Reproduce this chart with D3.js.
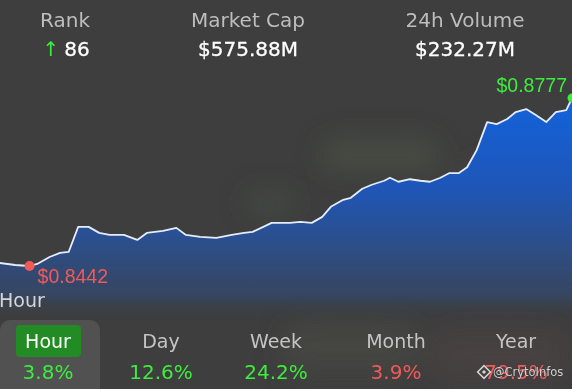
<!DOCTYPE html>
<html>
<head>
<meta charset="utf-8">
<script src="https://cdn.jsdelivr.net/npm/d3@7"></script>
<style>
  html, body { margin: 0; padding: 0; background: #3e3e3e; overflow: hidden; }
  svg { display: block; }
</style>
</head>
<body>
<script>
// price over the last hour (minutes from start, USD)
var minutes = [0, 1.6, 3.1, 3.9, 5.2, 6.3, 7.2, 8.2, 9.3, 10.4, 11.5, 13, 14.4, 15.4, 17.1, 18.5, 19.5, 21, 22.7, 24.3,
	25.6, 26.5, 28.5, 30.4, 31.5, 32.7, 33.8, 34.7, 36, 36.8, 38, 39, 40.3, 40.9, 41.8, 43, 44.1, 45.1, 46.2,
	47.1, 48.1, 49, 50, 51.1, 52.1, 53.2, 54.1, 55.2, 56.2, 57.3, 58.3, 59.4, 60];
var prices = [0.8448, 0.8444, 0.8442, 0.8446, 0.8460, 0.8468, 0.8470, 0.8520, 0.8520, 0.8508, 0.8504, 0.8504, 0.8494,
	0.8508, 0.8512, 0.8518, 0.8504, 0.8500, 0.8498, 0.8504, 0.8508, 0.8510, 0.8528, 0.8528, 0.8530, 0.8528,
	0.8540, 0.8560, 0.8574, 0.8578, 0.8596, 0.8604, 0.8612, 0.8618, 0.8610, 0.8615, 0.8612, 0.8610, 0.8618,
	0.8627, 0.8627, 0.8639, 0.8673, 0.8729, 0.8725, 0.8735, 0.8749, 0.8755, 0.8743, 0.8729, 0.8749, 0.8753, 0.8777];

var statLabels = ['Rank', 'Market Cap', '24h Volume'];
var statValues = ['86', '$575.88M', '$232.27M'];

var periods = ['Hour', 'Day', 'Week', 'Month', 'Year'];
var changes = [3.8, 12.6, 24.2, -3.9, -79.5];
var selectedPeriod = 'Hour';

var width = 572;
var height = 389;

var green = '#3ded3d';
var red = '#f25a5a';

var svg = d3.select('body')
	.append('svg')
	.attr('width', width)
	.attr('height', height)
	.style('font-family', '"DejaVu Sans", Verdana, sans-serif');

var defs = svg.append('defs');

defs.append('filter')
	.attr('id', 'blur')
	.attr('x', '-50%').attr('y', '-50%')
	.attr('width', '200%').attr('height', '200%')
	.append('feGaussianBlur')
	.attr('stdDeviation', 12);

var grad = defs.append('linearGradient')
	.attr('id', 'areaFill')
	.attr('gradientUnits', 'userSpaceOnUse')
	.attr('x1', 0).attr('y1', 95)
	.attr('x2', 0).attr('y2', 322);
grad.append('stop').attr('offset', '0%').attr('stop-color', '#1263dc');
grad.append('stop').attr('offset', '40%').attr('stop-color', '#1e56b8');
grad.append('stop').attr('offset', '68%').attr('stop-color', '#2d4e86');
grad.append('stop').attr('offset', '88%').attr('stop-color', '#324b7a').attr('stop-opacity', 0.6);
grad.append('stop').attr('offset', '100%').attr('stop-color', '#3e3e3e').attr('stop-opacity', 0);

// background
svg.append('rect')
	.attr('width', width)
	.attr('height', height)
	.attr('fill', '#3e3e3e');

// faint bokeh blobs behind the chart
var blobs = svg.append('g').attr('filter', 'url(#blur)');
blobs.append('rect').attr('x', 320).attr('y', 138).attr('width', 120).attr('height', 34).attr('rx', 17)
	.attr('fill', '#4a5645').attr('opacity', 0.55);
blobs.append('rect').attr('x', 245).attr('y', 190).attr('width', 50).attr('height', 26).attr('rx', 13)
	.attr('fill', '#465245').attr('opacity', 0.5);
blobs.append('rect').attr('x', 455).attr('y', 160).attr('width', 100).attr('height', 70).attr('rx', 30)
	.attr('fill', '#564545').attr('opacity', 0.4);
blobs.append('rect').attr('x', 280).attr('y', 322).attr('width', 140).attr('height', 50).attr('rx', 25)
	.attr('fill', '#4b4a44').attr('opacity', 0.55);
blobs.append('rect').attr('x', 430).attr('y', 330).attr('width', 140).attr('height', 50).attr('rx', 25)
	.attr('fill', '#4f4444').attr('opacity', 0.55);

var x = d3.scaleLinear()
	.domain([0, 60])
	.range([0, width]);

var y = d3.scaleLinear()
	.domain([d3.min(prices), d3.max(prices)])
	.range([266, 98]);

var points = minutes.map(function(m, i) {
	return { t: m, p: prices[i] };
});

var area = d3.area()
	.x(function(d) { return x(d.t); })
	.y0(height)
	.y1(function(d) { return y(d.p); });

var line = d3.line()
	.x(function(d) { return x(d.t); })
	.y(function(d) { return y(d.p); });

svg.append('path')
	.datum(points)
	.attr('d', area)
	.attr('fill', 'url(#areaFill)');

svg.append('path')
	.datum(points)
	.attr('d', line)
	.attr('fill', 'none')
	.attr('stroke', '#e4ecff')
	.attr('stroke-width', 1.8)
	.attr('stroke-linejoin', 'round');

// min / max markers
var minPt = points[d3.minIndex(points, function(d) { return d.p; })];
var maxPt = points[d3.maxIndex(points, function(d) { return d.p; })];

svg.append('circle')
	.attr('cx', x(minPt.t))
	.attr('cy', y(minPt.p))
	.attr('r', 5)
	.attr('fill', red);

svg.append('text')
	.attr('x', x(minPt.t) + 8)
	.attr('y', y(minPt.p) + 17)
	.attr('fill', red)
	.style('font-family', '"Liberation Sans", Arial, sans-serif')
	.style('font-size', '19.5px')
	.text('$' + minPt.p.toFixed(4));

svg.append('circle')
	.attr('cx', x(maxPt.t))
	.attr('cy', y(maxPt.p))
	.attr('r', 4.5)
	.attr('fill', green);

svg.append('text')
	.attr('x', x(maxPt.t) - 5)
	.attr('y', y(maxPt.p) - 6)
	.attr('text-anchor', 'end')
	.attr('fill', green)
	.style('font-family', '"Liberation Sans", Arial, sans-serif')
	.style('font-size', '19.5px')
	.text('$' + maxPt.p.toFixed(4));

svg.append('text')
	.attr('x', -1)
	.attr('y', 307)
	.attr('fill', '#d6d6d6')
	.style('font-size', '19px')
	.text(selectedPeriod);

// header stats
var statX = [65, 248, 465];

svg.selectAll('.stat-label')
	.data(statLabels)
	.enter()
	.append('text')
	.attr('class', 'stat-label')
	.attr('x', function(d, i) { return statX[i]; })
	.attr('y', 27)
	.attr('text-anchor', 'middle')
	.attr('fill', '#bdbdbd')
	.style('font-size', '20px')
	.text(function(d) { return d; });

svg.selectAll('.stat-value')
	.data(statValues)
	.enter()
	.append('text')
	.attr('class', 'stat-value')
	.attr('x', function(d, i) { return i === 0 ? 77 : statX[i]; })
	.attr('y', 56)
	.attr('text-anchor', 'middle')
	.attr('fill', '#ffffff')
	.attr('stroke', '#ffffff')
	.attr('stroke-width', 0.3)
	.style('font-size', '20px')
	.text(function(d) { return d; });

// rank change arrow
svg.append('text')
	.attr('x', 51)
	.attr('y', 56)
	.attr('text-anchor', 'middle')
	.attr('fill', green)
	.style('font-size', '20px')
	.text('↑');

// period tabs
var tabX = [48, 161, 276, 396, 516];

svg.append('rect')
	.attr('x', 0)
	.attr('y', 320)
	.attr('width', 100)
	.attr('height', 80)
	.attr('rx', 10)
	.attr('fill', '#ffffff')
	.attr('fill-opacity', 0.1);

svg.append('rect')
	.attr('x', 16)
	.attr('y', 325)
	.attr('width', 65)
	.attr('height', 32)
	.attr('rx', 4)
	.attr('fill', '#238b23');

svg.selectAll('.tab-label')
	.data(periods)
	.enter()
	.append('text')
	.attr('class', 'tab-label')
	.attr('x', function(d, i) { return tabX[i]; })
	.attr('y', 348)
	.attr('text-anchor', 'middle')
	.attr('fill', function(d) { return d === selectedPeriod ? '#ffffff' : '#c4c4c4'; })
	.style('font-size', '19px')
	.text(function(d) { return d; });

svg.selectAll('.tab-change')
	.data(changes)
	.enter()
	.append('text')
	.attr('class', 'tab-change')
	.attr('x', function(d, i) { return tabX[i]; })
	.attr('y', 379)
	.attr('text-anchor', 'middle')
	.attr('fill', function(d) { return d >= 0 ? green : red; })
	.style('font-size', '20px')
	.text(function(d) { return Math.abs(d).toFixed(1) + '%'; });

// watermark (drawn over the year figure, as in the source image)
var wm = svg.append('g')
	.attr('transform', 'translate(484,372)')
	.attr('opacity', 0.85);

wm.append('rect')
	.attr('x', -4.5).attr('y', -4.5)
	.attr('width', 9).attr('height', 9)
	.attr('transform', 'rotate(45)')
	.attr('fill', 'none')
	.attr('stroke', '#eeeeee')
	.attr('stroke-width', 1.5);

wm.append('rect')
	.attr('x', -1.5).attr('y', -1.5)
	.attr('width', 3).attr('height', 3)
	.attr('transform', 'rotate(45)')
	.attr('fill', '#eeeeee');

wm.append('text')
	.attr('x', 9)
	.attr('y', 4)
	.attr('fill', '#e6e6e6')
	.attr('stroke', '#333333')
	.attr('stroke-width', 0.6)
	.attr('paint-order', 'stroke')
	.style('font-size', '11.5px')
	.text('@CrytoInfos');
</script>
</body>
</html>
